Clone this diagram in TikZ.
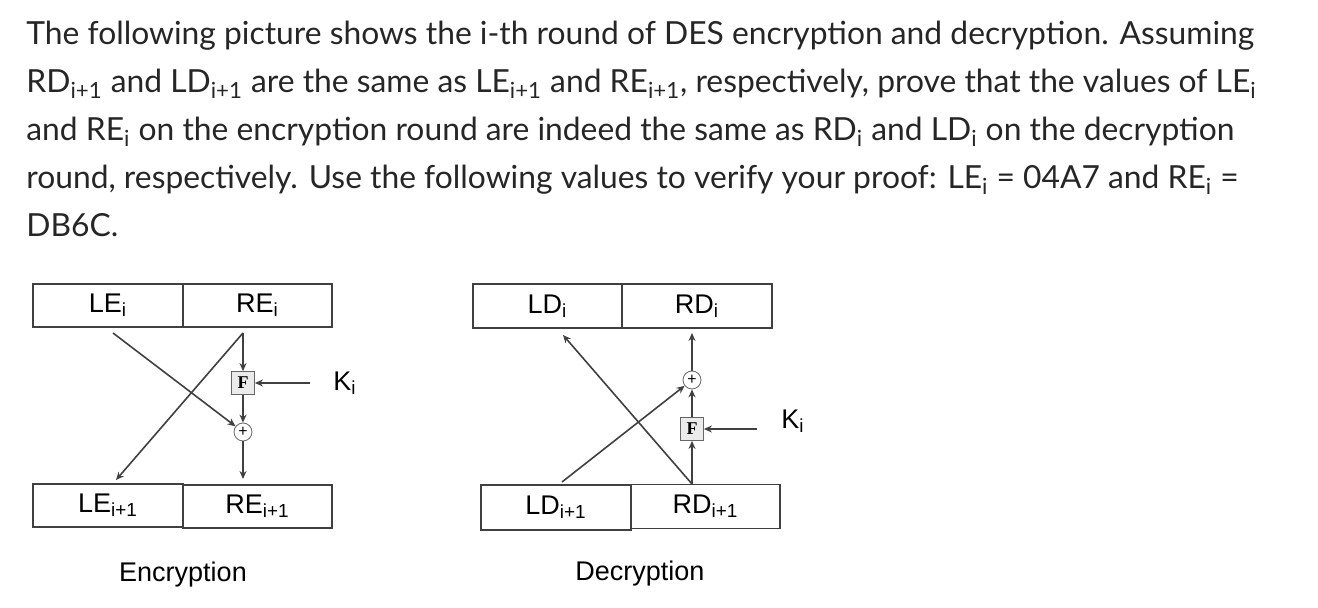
\documentclass[tikz,border=0pt]{standalone}
\usepackage{fontspec}
\setmainfont{Lato}
\newfontfamily\arialf{Liberation Sans}
\newfontfamily\seriff{Liberation Serif}
\usetikzlibrary{arrows.meta}
\begin{document}
\begin{tikzpicture}[x=0.5pt,y=-0.5pt,
  txt/.style={anchor=base west,inner sep=0,font=\fontsize{15.9}{18}\selectfont,text=black!85},
  cell/.style={draw=black!75,line width=0.8pt,inner sep=0,font=\arialf\fontsize{13.5}{15}\selectfont},
  lbl/.style={inner sep=0,font=\arialf\fontsize{13.5}{15}\selectfont},
  fbox/.style={draw=black!60,fill=black!8,minimum size=11.5pt,inner sep=0,font=\seriff\bfseries\fontsize{9}{10}\selectfont},
  xorc/.style={draw=black!60,circle,minimum size=9pt,inner sep=0,font=\fontsize{8}{9}\selectfont},
  ar/.style={-{Stealth[length=4pt,width=3.5pt]},draw=black!75,line width=0.8pt},
  ln/.style={draw=black!75,line width=0.8pt}]
\useasboundingbox (0,0) rectangle (1318,608);
\node[txt] (t1) at (26,45) {The following picture shows the i-th round of DES encryption and decryption. Assuming};
\node[txt] (t2) at (26,93) {RD\textsubscript{i+1} and LD\textsubscript{i+1} are the same as LE\textsubscript{i+1} and RE\textsubscript{i+1}, respectively, prove that the values of LE\textsubscript{i}};
\node[txt] (t3) at (26,141) {and RE\textsubscript{i} on the encryption round are indeed the same as RD\textsubscript{i} and LD\textsubscript{i} on the decryption};
\node[txt] (t4) at (26,189) {round, respectively. Use the following values to verify your proof: LE\textsubscript{i} = 04A7 and RE\textsubscript{i} =};
\node[txt] (t5) at (26,237) {DB6C.};
% Encryption
\node[cell,minimum width=75pt,minimum height=21.5pt] (le) at (108,305.5) {LE\textsubscript{i}};
\node[cell,minimum width=74.5pt,minimum height=21.5pt] (re) at (257.5,305.5) {RE\textsubscript{i}};
\node[cell,minimum width=75pt,minimum height=21.5pt] (le1) at (108,505.5) {LE\textsubscript{i+1}};
\node[cell,minimum width=74.5pt,minimum height=21.5pt] (re1) at (257.5,506.5) {RE\textsubscript{i+1}};
\node[fbox] (fe) at (243,383) {F};
\node[xorc] (xe) at (243,432) {+};
\node[lbl] (ke) at (345,383) {K\textsubscript{i}};
\coordinate (es) at (243,333);
\coordinate (ele) at (113,333);
\coordinate (eke) at (310,383);
\draw[ar] (es) -- (fe.north);
\draw[ar] (fe) -- (xe);
\draw[ar] (xe) -- (243,479);
\draw[ar] (ele) -- (xe);
\draw[ar] (es) -- (116,480);
\draw[ar] (eke) -- (fe.east);
\node[lbl] (enc) at (183,575) {Encryption};
% Decryption
\node[cell,minimum width=74.5pt,minimum height=22pt] (ld) at (547.5,306) {LD\textsubscript{i}};
\node[cell,minimum width=75pt,minimum height=22pt] (rd) at (697,306) {RD\textsubscript{i}};
\node[cell,minimum width=75pt,minimum height=22.5pt] (ld1) at (556,507.5) {LD\textsubscript{i+1}};
\node[cell,minimum width=74.5pt,minimum height=22pt] (rd1) at (705.5,506.5) {RD\textsubscript{i+1}};
\node[fbox] (fd) at (692,429) {F};
\node[xorc] (xd) at (692,380) {+};
\node[lbl] (kd) at (793,421) {K\textsubscript{i}};
\coordinate (ds) at (692,484);
\coordinate (dl) at (562,482);
\coordinate (dkd) at (757,429);
\draw[ar] (ds) -- (fd.south);
\draw[ar] (fd) -- (xd);
\draw[ar] (xd) -- (692,333);
\draw[ar] (ds) -- (563,335);
\draw[ar] (dl) -- (xd);
\draw[ar] (dkd) -- (fd.east);
\node[lbl] (dec) at (640,574) {Decryption};
\end{tikzpicture}
\end{document}
